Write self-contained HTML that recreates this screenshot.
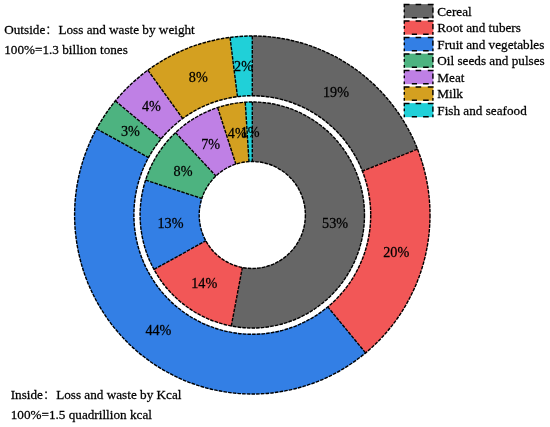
<!DOCTYPE html>
<html><head><meta charset="utf-8"><title>Food loss and waste</title>
<style>
html,body{margin:0;padding:0;background:#fff;}
svg{display:block}
text{font-family:"Liberation Serif","Noto Serif CJK SC",serif;fill:#000;stroke:#000;stroke-width:.25px;stroke-dasharray:none}
.pl{font-size:14.2px;text-anchor:middle}
.lg{font-size:13.2px}
.t{font-size:13.2px}
path,rect,ellipse{stroke:#000;stroke-width:1.4;stroke-dasharray:3.55 1.15;stroke-linejoin:miter}
.lb{stroke-width:1.5;stroke-dasharray:5.6 6.6}
</style></head><body>
<svg width="550" height="427" viewBox="0 0 550 427">
<rect x="0" y="0" width="550" height="427" fill="#fff" style="stroke:none"/>
<path d="M252.30 36.00A177.69 179.0 0 0 1 417.52 149.11L362.41 171.08A118.43 119.3 0 0 0 252.30 95.70Z" fill="#666666" style="stroke:#666666;stroke-width:.6;stroke-dasharray:none"/>
<path d="M417.52 149.11A177.69 179.0 0 0 1 365.57 352.92L327.79 306.92A118.43 119.3 0 0 0 362.41 171.08Z" fill="#F25757" style="stroke:#F25757;stroke-width:.6;stroke-dasharray:none"/>
<path d="M365.57 352.92A177.69 179.0 0 0 1 96.59 128.77L148.52 157.53A118.43 119.3 0 0 0 327.79 306.92Z" fill="#337FE5" style="stroke:#337FE5;stroke-width:.6;stroke-dasharray:none"/>
<path d="M96.59 128.77A177.69 179.0 0 0 1 115.38 100.90L161.05 138.96A118.43 119.3 0 0 0 148.52 157.53Z" fill="#4DB380" style="stroke:#4DB380;stroke-width:.6;stroke-dasharray:none"/>
<path d="M115.38 100.90A177.69 179.0 0 0 1 147.85 70.19L182.69 118.48A118.43 119.3 0 0 0 161.05 138.96Z" fill="#BF80E5" style="stroke:#BF80E5;stroke-width:.6;stroke-dasharray:none"/>
<path d="M147.85 70.19A177.69 179.0 0 0 1 230.03 37.41L237.46 96.64A118.43 119.3 0 0 0 182.69 118.48Z" fill="#D4A020" style="stroke:#D4A020;stroke-width:.6;stroke-dasharray:none"/>
<path d="M230.03 37.41A177.69 179.0 0 0 1 252.30 36.00L252.30 95.70A118.43 119.3 0 0 0 237.46 96.64Z" fill="#20D0D8" style="stroke:#20D0D8;stroke-width:.6;stroke-dasharray:none"/>
<path d="M252.30 102.00A112.18 113.0 0 1 1 231.28 326.00L242.35 267.55A53.11 53.5 0 1 0 252.30 161.50Z" fill="#666666" style="stroke:#666666;stroke-width:.6;stroke-dasharray:none"/>
<path d="M231.28 326.00A112.18 113.0 0 0 1 154.00 269.44L205.76 240.77A53.11 53.5 0 0 0 242.35 267.55Z" fill="#F25757" style="stroke:#F25757;stroke-width:.6;stroke-dasharray:none"/>
<path d="M154.00 269.44A112.18 113.0 0 0 1 145.62 180.08L201.79 198.47A53.11 53.5 0 0 0 205.76 240.77Z" fill="#337FE5" style="stroke:#337FE5;stroke-width:.6;stroke-dasharray:none"/>
<path d="M145.62 180.08A112.18 113.0 0 0 1 175.51 132.63L215.94 176.00A53.11 53.5 0 0 0 201.79 198.47Z" fill="#4DB380" style="stroke:#4DB380;stroke-width:.6;stroke-dasharray:none"/>
<path d="M175.51 132.63A112.18 113.0 0 0 1 217.64 107.53L235.89 164.12A53.11 53.5 0 0 0 215.94 176.00Z" fill="#BF80E5" style="stroke:#BF80E5;stroke-width:.6;stroke-dasharray:none"/>
<path d="M217.64 107.53A112.18 113.0 0 0 1 245.26 102.22L248.97 161.61A53.11 53.5 0 0 0 235.89 164.12Z" fill="#D4A020" style="stroke:#D4A020;stroke-width:.6;stroke-dasharray:none"/>
<path d="M245.26 102.22A112.18 113.0 0 0 1 252.30 102.00L252.30 161.50A53.11 53.5 0 0 0 248.97 161.61Z" fill="#20D0D8" style="stroke:#20D0D8;stroke-width:.6;stroke-dasharray:none"/>
<ellipse cx="252.3" cy="215.0" rx="177.69" ry="179.0" fill="none"/>
<ellipse cx="252.3" cy="215.0" rx="118.43" ry="119.3" fill="none"/>
<ellipse cx="252.3" cy="215.0" rx="112.18" ry="113.0" fill="none"/>
<ellipse cx="252.3" cy="215.0" rx="53.11" ry="53.5" fill="none"/>
<path d="M252.30 36.00L252.30 95.70" fill="none"/>
<path d="M417.52 149.11L362.41 171.08" fill="none"/>
<path d="M365.57 352.92L327.79 306.92" fill="none"/>
<path d="M96.59 128.77L148.52 157.53" fill="none"/>
<path d="M115.38 100.90L161.05 138.96" fill="none"/>
<path d="M147.85 70.19L182.69 118.48" fill="none"/>
<path d="M230.03 37.41L237.46 96.64" fill="none"/>
<path d="M252.30 102.00L252.30 161.50" fill="none"/>
<path d="M231.28 326.00L242.35 267.55" fill="none"/>
<path d="M154.00 269.44L205.76 240.77" fill="none"/>
<path d="M145.62 180.08L201.79 198.47" fill="none"/>
<path d="M175.51 132.63L215.94 176.00" fill="none"/>
<path d="M217.64 107.53L235.89 164.12" fill="none"/>
<path d="M245.26 102.22L248.97 161.61" fill="none"/>
<text transform="translate(336.02 96.84) scale(1 1.02)" class="pl">19%</text>
<text transform="translate(396.21 257.29) scale(1 1.02)" class="pl">20%</text>
<text transform="translate(158.42 335.12) scale(1 1.02)" class="pl">44%</text>
<text transform="translate(130.34 136.36) scale(1 1.02)" class="pl">3%</text>
<text transform="translate(151.45 111.47) scale(1 1.02)" class="pl">4%</text>
<text transform="translate(198.30 81.52) scale(1 1.02)" class="pl">8%</text>
<text transform="translate(243.50 71.34) scale(1 1.02)" class="pl">2%</text>
<text transform="translate(335.08 228.03) scale(1 1.02)" class="pl">53%</text>
<text transform="translate(204.22 287.55) scale(1 1.02)" class="pl">14%</text>
<text transform="translate(170.52 228.03) scale(1 1.02)" class="pl">13%</text>
<text transform="translate(183.02 175.59) scale(1 1.02)" class="pl">8%</text>
<text transform="translate(210.73 148.54) scale(1 1.02)" class="pl">7%</text>
<text transform="translate(237.31 138.42) scale(1 1.02)" class="pl">4%</text>
<text transform="translate(250.20 136.99) scale(1 1.02)" class="pl">1%</text>
<rect x="403.90" y="4.15" width="29.40" height="14.00" fill="#666666" style="stroke:none"/>
<path d="M403.60 4.55H409.50M415.60 4.55H421.20M427.80 4.55H433.50M411.80 17.75H417.00M423.10 17.75H428.70M404.30 3.85V7.15M404.30 9.45V12.25M404.30 15.55V18.35M432.90 3.85V5.25M432.90 7.55V12.75M432.90 15.55V18.35" fill="none" style="stroke-width:1.4;stroke-dasharray:none"/>
<text transform="translate(437.30 15.95) scale(1 1.02)" class="lg">Cereal</text>
<rect x="403.90" y="20.65" width="29.40" height="14.00" fill="#F25757" style="stroke:none"/>
<path d="M403.60 21.05H409.50M415.60 21.05H421.20M427.80 21.05H433.50M411.80 34.25H417.00M423.10 34.25H428.70M404.30 20.35V23.65M404.30 25.95V28.75M404.30 32.05V34.85M432.90 20.35V21.75M432.90 24.05V29.25M432.90 32.05V34.85" fill="none" style="stroke-width:1.4;stroke-dasharray:none"/>
<text transform="translate(437.30 32.45) scale(1 1.02)" class="lg">Root and tubers</text>
<rect x="403.90" y="37.15" width="29.40" height="14.00" fill="#337FE5" style="stroke:none"/>
<path d="M403.60 37.55H409.50M415.60 37.55H421.20M427.80 37.55H433.50M411.80 50.75H417.00M423.10 50.75H428.70M404.30 36.85V40.15M404.30 42.45V45.25M404.30 48.55V51.35M432.90 36.85V38.25M432.90 40.55V45.75M432.90 48.55V51.35" fill="none" style="stroke-width:1.4;stroke-dasharray:none"/>
<text transform="translate(437.30 48.95) scale(1 1.02)" class="lg">Fruit and vegetables</text>
<rect x="403.90" y="53.65" width="29.40" height="14.00" fill="#4DB380" style="stroke:none"/>
<path d="M403.60 54.05H409.50M415.60 54.05H421.20M427.80 54.05H433.50M411.80 67.25H417.00M423.10 67.25H428.70M404.30 53.35V56.65M404.30 58.95V61.75M404.30 65.05V67.85M432.90 53.35V54.75M432.90 57.05V62.25M432.90 65.05V67.85" fill="none" style="stroke-width:1.4;stroke-dasharray:none"/>
<text transform="translate(437.30 65.45) scale(1 1.02)" class="lg">Oil seeds and pulses</text>
<rect x="403.90" y="70.15" width="29.40" height="14.00" fill="#BF80E5" style="stroke:none"/>
<path d="M403.60 70.55H409.50M415.60 70.55H421.20M427.80 70.55H433.50M411.80 83.75H417.00M423.10 83.75H428.70M404.30 69.85V73.15M404.30 75.45V78.25M404.30 81.55V84.35M432.90 69.85V71.25M432.90 73.55V78.75M432.90 81.55V84.35" fill="none" style="stroke-width:1.4;stroke-dasharray:none"/>
<text transform="translate(437.30 81.95) scale(1 1.02)" class="lg">Meat</text>
<rect x="403.90" y="86.65" width="29.40" height="14.00" fill="#D4A020" style="stroke:none"/>
<path d="M403.60 87.05H409.50M415.60 87.05H421.20M427.80 87.05H433.50M411.80 100.25H417.00M423.10 100.25H428.70M404.30 86.35V89.65M404.30 91.95V94.75M404.30 98.05V100.85M432.90 86.35V87.75M432.90 90.05V95.25M432.90 98.05V100.85" fill="none" style="stroke-width:1.4;stroke-dasharray:none"/>
<text transform="translate(437.30 98.45) scale(1 1.02)" class="lg">Milk</text>
<rect x="403.90" y="103.15" width="29.40" height="14.00" fill="#20D0D8" style="stroke:none"/>
<path d="M403.60 103.55H409.50M415.60 103.55H421.20M427.80 103.55H433.50M411.80 116.75H417.00M423.10 116.75H428.70M404.30 102.85V106.15M404.30 108.45V111.25M404.30 114.55V117.35M432.90 102.85V104.25M432.90 106.55V111.75M432.90 114.55V117.35" fill="none" style="stroke-width:1.4;stroke-dasharray:none"/>
<text transform="translate(437.30 114.95) scale(1 1.02)" class="lg">Fish and seafood</text>
<text transform="translate(4.20 34.40) scale(1 1.02)" class="t">Outside：Loss and waste by weight</text>
<text transform="translate(4.20 53.50) scale(1 1.02)" class="t">100%=1.3 billion tones</text>
<text transform="translate(10.70 398.50) scale(1 1.02)" class="t">Inside：Loss and waste by Kcal</text>
<text transform="translate(10.70 418.70) scale(1 1.02)" class="t">100%=1.5 quadrillion kcal</text>
</svg>
</body></html>
